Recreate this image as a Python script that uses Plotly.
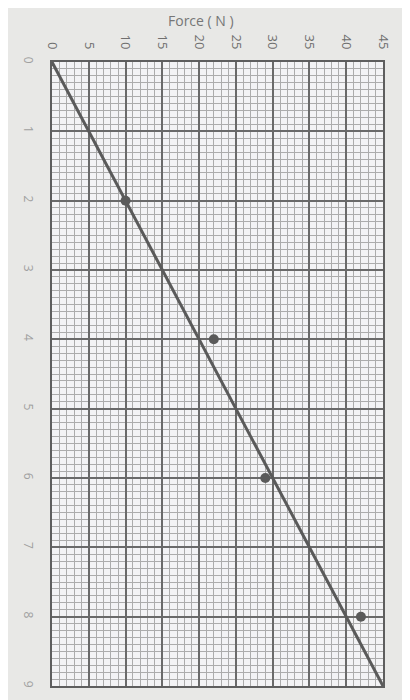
import plotly.graph_objects as go

# readings (photo of graph paper is turned on its side: force runs across, the other axis runs down)
distance = [2, 4, 6, 8]
force = [10, 22, 29, 42]

# best fit line drawn on the paper
fit_distance = [0, 9]
fit_force = [0, 45]

force_ticks = [0, 5, 10, 15, 20, 25, 30, 35, 40, 45]
distance_ticks = [0, 1, 2, 3, 4, 5, 6, 7, 8, 9]

ink = '#5a5a5a'

fig = go.Figure()
fig.add_trace(go.Scatter(x=fit_force, y=fit_distance, mode='lines',
                         line=dict(color=ink, width=3), hoverinfo='skip'))
fig.add_trace(go.Scatter(x=force, y=distance, mode='markers',
                         marker=dict(color=ink, size=10)))

fig.update_layout(
    width=402, height=692,
    margin=dict(l=31, r=27, t=54, b=12),
    paper_bgcolor='#e8e8e6',
    plot_bgcolor='#f3f3f5',
    showlegend=False,
    font=dict(family='Open Sans', color='#7a7a7a'),
)
fig.update_xaxes(
    side='top', range=[0, 45], tickvals=force_ticks, ticktext=[str(t) for t in force_ticks],
    tickangle=90, tickfont=dict(size=13, color='#6f6f6f'),
    showgrid=True, gridcolor='#6a6a6a', gridwidth=1.6,
    minor=dict(dtick=1, showgrid=True, gridcolor='#acacac', gridwidth=1),
    showline=True, linecolor='#5e5e5e', linewidth=2, mirror=True,
    zeroline=False, ticks='outside', ticklen=6, tickcolor='rgba(0,0,0,0)',
)
fig.update_yaxes(
    range=[9, 0], tickvals=distance_ticks, ticktext=[str(t) for t in distance_ticks],
    tickangle=90, tickfont=dict(size=12, color='#a0a0a0'),
    showgrid=True, gridcolor='#6a6a6a', gridwidth=1.6,
    minor=dict(dtick=0.1, showgrid=True, gridcolor='#acacac', gridwidth=1),
    showline=True, linecolor='#5e5e5e', linewidth=2, mirror=True,
    zeroline=False, ticks='outside', ticklen=12, tickcolor='rgba(0,0,0,0)',
)
fig.add_annotation(text='Force ( N )', xref='paper', yref='paper', x=0.45, y=1.066,
                   yanchor='middle', showarrow=False, font=dict(size=14, color='#767676'))

fig.write_html('out.html')
